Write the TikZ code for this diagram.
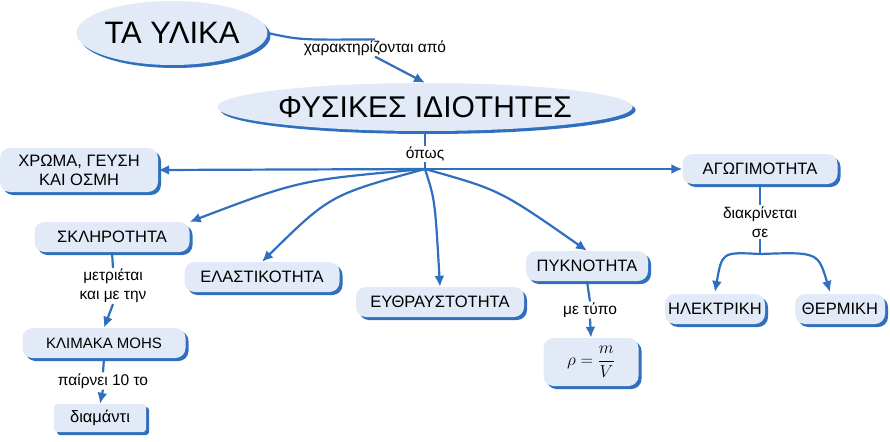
\documentclass[tikz,border=0pt]{standalone}
\usepackage{fontspec}
\setmainfont{Liberation Sans}
\usetikzlibrary{shapes.geometric,shadows,arrows.meta}
\definecolor{lb}{RGB}{226,234,247}
\definecolor{eb}{RGB}{48,110,190}
\begin{document}
\begin{tikzpicture}[x=1pt,y=-1pt,
 bx/.style={rounded corners=10pt,fill=lb,draw=none,inner sep=3pt,
   drop shadow={shadow xshift=3pt,shadow yshift=-3pt,fill=eb,opacity=1},font=\fontsize{16.5}{19}\selectfont,align=center},
 el/.style={ellipse,fill=lb,draw=none,inner sep=0pt,
   drop shadow={shadow xshift=3pt,shadow yshift=-3pt,fill=eb,opacity=1}},
 lbl/.style={font=\fontsize{15.5}{19}\selectfont,inner sep=1pt,fill=white},
 ln/.style={draw=eb,line width=2.2pt},
 ar/.style={ln,-{Latex[length=11pt,width=10pt]}}]
\useasboundingbox (0,0) rectangle (890,441);
\node[el,minimum width=190,minimum height=64,font=\fontsize{31}{34}\selectfont] (yl) at (172,33) {ΤΑ ΥΛΙΚΑ};
\node[el,minimum width=370,minimum height=48,font=\fontsize{30}{34}\selectfont] (fi) at (425,107) {ΦΥΣΙΚΕΣ ΙΔΙΟΤΗΤΕΣ};
\node[lbl] (l1) at (375,48) {χαρακτηρίζονται από};
\draw[ln] (yl.east) .. controls (300,40) .. (l1.north);
\draw[ar] (l1.south) -- (fi.north);
\node[lbl] (op) at (425,154) {όπως};
\coordinate (h) at (425,169);
\draw[ln] (fi.south) -- (op.north);
\draw[ln] (op.south) -- (h);
\node[bx,minimum width=158,minimum height=44] (xr) at (79,170) {ΧΡΩΜΑ, ΓΕΥΣΗ\\ΚΑΙ ΟΣΜΗ};
\node[bx,minimum width=155,minimum height=30] (ag) at (760,169) {ΑΓΩΓΙΜΟΤΗΤΑ};
\node[bx,minimum width=155,minimum height=30] (sk) at (112,237) {ΣΚΛΗΡΟΤΗΤΑ};
\node[bx,minimum width=155,minimum height=30] (ela) at (262,277) {ΕΛΑΣΤΙΚΟΤΗΤΑ};
\node[bx,minimum width=168,minimum height=30] (eu) at (440,302) {ΕΥΘΡΑΥΣΤΟΤΗΤΑ};
\node[bx,minimum width=122,minimum height=30] (py) at (587,266) {ΠΥΚΝΟΤΗΤΑ};
\node[bx,minimum width=95,minimum height=48,font=\fontsize{18}{20}\selectfont] (fo) at (591,362) {$\rho=\displaystyle\frac{m}{V}$};
\node[bx,minimum width=100,minimum height=30] (hl) at (715,309) {ΗΛΕΚΤΡΙΚΗ};
\node[bx,minimum width=90,minimum height=30] (th) at (840,309) {ΘΕΡΜΙΚΗ};
\node[bx,minimum width=163,minimum height=30,font=\fontsize{15}{17}\selectfont] (kl) at (104,343) {ΚΛΙΜΑΚΑ MOHS};
\node[bx,rounded corners=3pt,minimum width=92,minimum height=28] (di) at (100,418) {διαμάντι};
\draw[ar] (h) -- (xr.east);
\draw[ar] (h) -- (ag.west);
\draw[ar] (h) .. controls (300,180) .. (sk.north east);
\draw[ar] (h) .. controls (330,195) .. (ela.north);
\draw[ar] (h) .. controls (435,200) .. (eu.north);
\draw[ar] (h) .. controls (500,190) .. (py.north);
\node[lbl,align=center] (l2) at (113,286) {μετριέται\\και με την};
\draw[ln] (sk.south) -- (l2.north);
\draw[ar] (l2.south) -- (kl.north);
\node[lbl] (l3) at (103,381) {παίρνει 10 το};
\draw[ln] (kl.south) -- (l3.north);
\draw[ar] (l3.south) -- (di.north);
\node[lbl] (l4) at (590,310) {με τύπο};
\draw[ln] (py.south) -- (l4.north);
\draw[ar] (l4.south) -- (fo.north);
\node[lbl,align=center] (l5) at (760,222) {διακρίνεται\\σε};
\draw[ln] (ag.south) -- (l5.north);
\coordinate (s) at (760,254);
\draw[ln] (l5.south) -- (s);
\draw[ar] (s) .. controls (722,252) .. (715,292);
\draw[ar] (s) .. controls (818,252) .. (830,292);
\end{tikzpicture}
\end{document}
